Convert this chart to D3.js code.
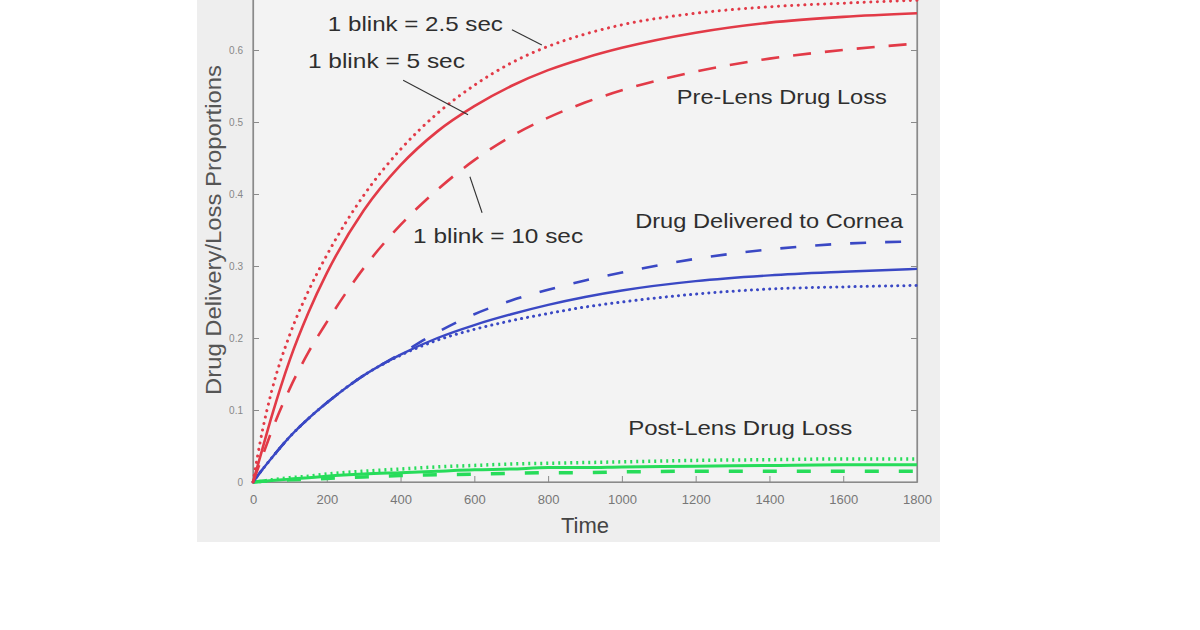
<!DOCTYPE html>
<html>
<head>
<meta charset="utf-8">
<script src="https://cdn.jsdelivr.net/npm/d3@7"></script>
<style>
  body { margin: 0; background: #fff; }
  text { font-family: "Liberation Sans", Arial, Helvetica, sans-serif; }
</style>
</head>
<body>
<div id="chart"></div>
<script>
// time points (x values) shared by every curve
var times = [0, 25, 50, 100, 150, 200, 300, 400, 500, 600, 700, 800, 900, 1000, 1200, 1400, 1600, 1800];

// pre-lens drug loss (red)
var preLens25 = [0, 0.07, 0.125, 0.205, 0.265, 0.315, 0.398, 0.462, 0.512, 0.551, 0.582, 0.605, 0.622, 0.635, 0.651, 0.66, 0.665, 0.669];
var preLens5 = [0, 0.045, 0.09, 0.17, 0.235, 0.29, 0.377, 0.44, 0.487, 0.522, 0.55, 0.572, 0.589, 0.603, 0.624, 0.638, 0.646, 0.651];
var preLens10 = [0, 0.035, 0.07, 0.13, 0.18, 0.222, 0.297, 0.357, 0.406, 0.447, 0.48, 0.506, 0.527, 0.544, 0.57, 0.588, 0.6, 0.609];

// drug delivered to cornea (blue)
var cornea25 = [0, 0.017, 0.033, 0.063, 0.088, 0.11, 0.148, 0.176, 0.197, 0.212, 0.224, 0.234, 0.243, 0.25, 0.261, 0.268, 0.271, 0.273];
var cornea5 = [0, 0.017, 0.033, 0.063, 0.088, 0.11, 0.148, 0.177, 0.2, 0.218, 0.233, 0.246, 0.257, 0.266, 0.279, 0.287, 0.292, 0.296];
var cornea10 = [0, 0.017, 0.033, 0.063, 0.088, 0.11, 0.148, 0.178, 0.208, 0.233, 0.252, 0.267, 0.28, 0.291, 0.31, 0.323, 0.331, 0.334];

// post-lens drug loss (green)
var postLens25 = [0, 0.001, 0.003, 0.006, 0.008, 0.011, 0.015, 0.018, 0.021, 0.023, 0.025, 0.026, 0.027, 0.028, 0.03, 0.031, 0.032, 0.032];
var postLens5 = [0, 0.001, 0.002, 0.004, 0.006, 0.008, 0.011, 0.013, 0.015, 0.017, 0.018, 0.02, 0.02, 0.021, 0.022, 0.023, 0.024, 0.024];
var postLens10 = [0, 0.001, 0.002, 0.003, 0.004, 0.005, 0.007, 0.009, 0.01, 0.011, 0.012, 0.013, 0.013, 0.014, 0.015, 0.015, 0.015, 0.015];

var xTicks = [0, 200, 400, 600, 800, 1000, 1200, 1400, 1600, 1800];
var yTicks = [0, 0.1, 0.2, 0.3, 0.4, 0.5, 0.6];

var W = 1200, H = 630;
var svg = d3.select("#chart")
  .append("svg")
    .attr("width", W)
    .attr("height", H);

// grey photo panel behind the figure
svg.append("rect")
  .attr("x", 197).attr("y", 0)
  .attr("width", 743).attr("height", 542)
  .attr("fill", "#eeeeee");

var x = d3.scaleLinear().domain([0, 1800]).range([253, 917]);
var y = d3.scaleLinear().domain([0, 0.7]).range([482, -22]);

svg.append("rect")
  .attr("x", x(0)).attr("y", y(0.7))
  .attr("width", x(1800) - x(0)).attr("height", y(0) - y(0.7))
  .attr("fill", "#f3f3f3")
  .attr("stroke", "#8a8a8a")
  .attr("stroke-width", 1.2);

// axes, ticks pointing inward like matlab
var xAxis = svg.append("g")
  .attr("transform", "translate(0," + y(0) + ")")
  .call(d3.axisBottom(x).tickValues(xTicks).tickSizeInner(-6).tickSizeOuter(0).tickPadding(13)
    .tickFormat(d3.format("d")));
var yAxis = svg.append("g")
  .attr("transform", "translate(" + x(0) + ",0)")
  .call(d3.axisLeft(y).tickValues(yTicks).tickSizeInner(-6).tickSizeOuter(0).tickPadding(10)
    .tickFormat(function(d) { return d === 0 ? "0" : d3.format(".1f")(d); }));
svg.append("g")
  .attr("transform", "translate(" + x(1800) + ",0)")
  .call(d3.axisRight(y).tickValues(yTicks).tickSizeInner(-6).tickSizeOuter(0).tickFormat(""));

svg.selectAll(".domain").attr("stroke", "#8a8a8a").attr("stroke-width", 1.2);
svg.selectAll(".tick line").attr("stroke", "#8a8a8a");
xAxis.selectAll("text").attr("font-size", "13px").attr("fill", "#777");
yAxis.selectAll("text").attr("font-size", "10px").attr("fill", "#888");

var line = d3.line()
  .x(function(d) { return x(d[0]); })
  .y(function(d) { return y(d[1]); })
  .curve(d3.curveMonotoneX);

var red = "#e23a47", blue = "#3a48c4", green = "#27dc5a";
var series = [
  {vals: postLens10, color: green, dash: "14,20", w: 3.5, cap: "butt"},
  {vals: postLens5, color: green, dash: null, w: 3, cap: "butt"},
  {vals: postLens25, color: green, dash: "2,4", w: 3.5, cap: "butt"},
  {vals: cornea25, color: blue, dash: "0.1,6", w: 3, cap: "round"},
  {vals: cornea10, color: blue, dash: "16,19", w: 2.6, cap: "butt"},
  {vals: cornea5, color: blue, dash: null, w: 2.4, cap: "butt"},
  {vals: preLens25, color: red, dash: "0.1,6.5", w: 3, cap: "round"},
  {vals: preLens10, color: red, dash: "18,14", w: 2.6, cap: "butt"},
  {vals: preLens5, color: red, dash: null, w: 2.6, cap: "butt"}
];

svg.append("g")
  .selectAll("path")
  .data(series)
  .enter()
  .append("path")
    .attr("d", function(s) { return line(times.map(function(t, i) { return [t, s.vals[i]]; })); })
    .attr("fill", "none")
    .attr("stroke", function(s) { return s.color; })
    .attr("stroke-width", function(s) { return s.w; })
    .attr("stroke-linecap", function(s) { return s.cap; })
    .attr("stroke-dasharray", function(s) { return s.dash; });

// annotations (data coordinates)
var labels = [
  {t: 203, v: 0.626, len: 175, text: "1 blink = 2.5 sec"},
  {t: 149, v: 0.575, len: 157, text: "1 blink = 5 sec"},
  {t: 434, v: 0.332, len: 170, text: "1 blink = 10 sec"},
  {t: 1149, v: 0.525, len: 210, text: "Pre-Lens Drug Loss"},
  {t: 1036, v: 0.353, len: 268, text: "Drug Delivered to Cornea"},
  {t: 1017, v: 0.065, len: 224, text: "Post-Lens Drug Loss"}
];
svg.append("g")
  .selectAll("text")
  .data(labels)
  .enter()
  .append("text")
    .attr("x", function(d) { return x(d.t); })
    .attr("y", function(d) { return y(d.v); })
    .attr("font-size", "21px")
    .attr("fill", "#2e2e2e")
    .attr("textLength", function(d) { return d.len; })
    .attr("lengthAdjust", "spacingAndGlyphs")
    .text(function(d) { return d.text; });

var pointers = [
  [[702, 0.628], [783, 0.607]],
  [[407, 0.558], [583, 0.510]],
  [[621, 0.374], [588, 0.424]]
];
svg.append("g")
  .selectAll("line")
  .data(pointers)
  .enter()
  .append("line")
    .attr("x1", function(d) { return x(d[0][0]); })
    .attr("y1", function(d) { return y(d[0][1]); })
    .attr("x2", function(d) { return x(d[1][0]); })
    .attr("y2", function(d) { return y(d[1][1]); })
    .attr("stroke", "#333")
    .attr("stroke-width", 1.1);

// axis titles
svg.append("text")
  .attr("x", 585)
  .attr("y", 533)
  .attr("font-size", "22px")
  .attr("fill", "#444")
  .attr("text-anchor", "middle")
  .text("Time");

svg.append("text")
  .attr("x", -230)
  .attr("y", 221)
  .attr("font-size", "22px")
  .attr("fill", "#555")
  .attr("text-anchor", "middle")
  .attr("textLength", 330)
  .attr("lengthAdjust", "spacingAndGlyphs")
  .attr("transform", "rotate(-90)")
  .text("Drug Delivery/Loss Proportions");
</script>
</body>
</html>
